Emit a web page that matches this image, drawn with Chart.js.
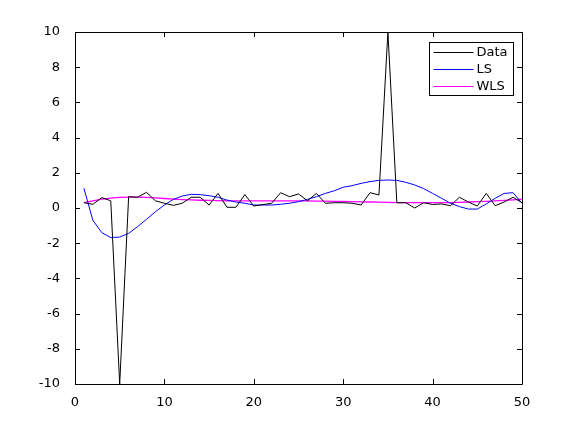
<!DOCTYPE html>
<html>
<head>
<meta charset="utf-8">
<script src="https://cdn.jsdelivr.net/npm/chart.js@4.4.0/dist/chart.umd.min.js"></script>
<style>
  html, body { margin: 0; padding: 0; background: #fff; }
  #wrap { width: 577px; height: 433px; }
</style>
</head>
<body>
<div id="wrap"><canvas id="grafica"></canvas></div>
<script>
// valores
const xs = [1,2,3,4,5,6,7,8,9,10,11,12,13,14,15,16,17,18,19,20,21,22,23,24,25,26,27,28,29,30,31,32,33,34,35,36,37,38,39,40,41,42,43,44,45,46,47,48,49,50];
const datos = [0.30,0.21,0.59,0.41,-10,0.64,0.61,0.89,0.41,0.27,0.15,0.27,0.61,0.61,0.17,0.83,0.04,0.04,0.76,0.11,0.19,0.27,0.87,0.64,0.80,0.41,0.83,0.27,0.30,0.30,0.27,0.17,0.87,0.74,10,0.30,0.30,0.00,0.30,0.20,0.23,0.13,0.61,0.34,0.11,0.83,0.13,0.34,0.61,0.30];
const ls = [1.12,-0.70,-1.40,-1.68,-1.65,-1.44,-1.06,-0.64,-0.21,0.17,0.49,0.68,0.78,0.76,0.70,0.61,0.45,0.34,0.27,0.17,0.17,0.17,0.21,0.27,0.36,0.49,0.64,0.83,0.98,1.18,1.27,1.40,1.50,1.57,1.59,1.57,1.46,1.31,1.10,0.83,0.55,0.27,0.08,-0.06,-0.06,0.23,0.55,0.83,0.87,0.27];
const wls = [0.30,0.40,0.50,0.56,0.60,0.62,0.62,0.60,0.57,0.54,0.51,0.48,0.46,0.44,0.43,0.42,0.41,0.40,0.40,0.40,0.40,0.40,0.40,0.40,0.40,0.40,0.39,0.39,0.38,0.37,0.36,0.35,0.34,0.33,0.32,0.31,0.30,0.30,0.30,0.30,0.30,0.31,0.32,0.34,0.36,0.38,0.40,0.43,0.46,0.50];
const xTicks = [0,10,20,30,40,50];
const yTicks = [-10,-8,-6,-4,-2,0,2,4,6,8,10];
const nombres = ['Data','LS','WLS'];
const colores = ['#000000','#0000ff','#ff00ff'];

const fuente = { family: 'DejaVu Sans', size: 13 };

function puntos(ys) {
    return xs.map((x, i) => ({ x: x, y: ys[i] }));
}

// caja, marcas hacia dentro y leyenda estilo octave
const marco = {
    id: 'marco',
    afterDraw(chart) {
        const c = chart.ctx;
        const a = chart.chartArea;
        const sx = chart.scales.x, sy = chart.scales.y;
        c.save();
        c.strokeStyle = '#000';
        c.lineWidth = 1;
        c.beginPath();
        c.rect(Math.round(a.left) + 0.5, Math.round(a.top) + 0.5, Math.round(a.right - a.left), Math.round(a.bottom - a.top));
        c.stroke();
        c.beginPath();
        xTicks.forEach(v => {
            const px = Math.round(sx.getPixelForValue(v)) + 0.5;
            c.moveTo(px, a.bottom); c.lineTo(px, a.bottom - 5);
            c.moveTo(px, a.top); c.lineTo(px, a.top + 5);
        });
        yTicks.forEach(v => {
            const py = Math.round(sy.getPixelForValue(v)) + 0.5;
            c.moveTo(a.left, py); c.lineTo(a.left + 5, py);
            c.moveTo(a.right, py); c.lineTo(a.right - 5, py);
        });
        c.stroke();

        // leyenda
        const lx = 429.5, ly = 42.5, lw = 84, lh = 53;
        c.fillStyle = '#fff';
        c.fillRect(lx, ly, lw, lh);
        c.strokeStyle = '#000';
        c.strokeRect(lx, ly, lw, lh);
        c.font = '13px "DejaVu Sans"';
        c.textBaseline = 'middle';
        nombres.forEach((n, i) => {
            const y = Math.round(ly + 9 + i * 17) + 0.5;
            c.beginPath();
            c.strokeStyle = colores[i];
            c.moveTo(lx + 4, y); c.lineTo(lx + 44, y);
            c.stroke();
            c.fillStyle = '#000';
            c.fillText(n, lx + 47, y);
        });
        c.restore();
    }
};

new Chart(document.getElementById('grafica').getContext('2d'), {
    type: 'line',
    data: {
        datasets: [
            { label: nombres[0], data: puntos(datos), borderColor: colores[0], borderWidth: 1, pointRadius: 0, tension: 0 },
            { label: nombres[1], data: puntos(ls), borderColor: colores[1], borderWidth: 1, pointRadius: 0, tension: 0 },
            { label: nombres[2], data: puntos(wls), borderColor: colores[2], borderWidth: 1.3, pointRadius: 0, tension: 0 }
        ]
    },
    options: {
        responsive: true,
        maintainAspectRatio: false,
        animation: false,
        layout: { padding: { top: 32, right: 55, left: 0, bottom: 0 } },
        plugins: {
            legend: { display: false },
            tooltip: { enabled: false }
        },
        scales: {
            x: {
                type: 'linear',
                min: 0,
                max: 50,
                afterFit(s) { s.height = 49; },
                afterBuildTicks(s) { s.ticks = xTicks.map(v => ({ value: v })); },
                grid: { display: false },
                border: { display: false },
                ticks: { color: '#000', font: fuente, padding: 3, maxRotation: 0 }
            },
            y: {
                type: 'linear',
                min: -10,
                max: 10,
                afterFit(s) { s.width = 75; },
                afterBuildTicks(s) { s.ticks = yTicks.map(v => ({ value: v })); },
                grid: { display: false },
                border: { display: false },
                ticks: { color: '#000', font: fuente, padding: 7 }
            }
        }
    },
    plugins: [marco]
});
</script>
</body>
</html>
